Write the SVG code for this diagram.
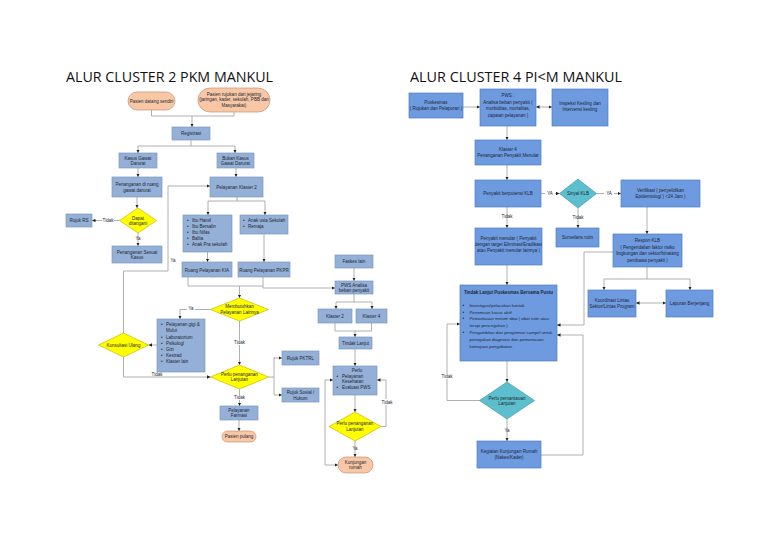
<svg xmlns="http://www.w3.org/2000/svg" width="768" height="543" viewBox="0 0 768 543">
<style>
.t{font-family:"Liberation Sans",Arial,sans-serif;font-size:4.5px;fill:#1b2535;text-anchor:middle}
.l{text-anchor:start}
.b{font-weight:bold}
.title{font-family:"Open Sans","Liberation Sans",sans-serif;font-size:14px;fill:#111}
.bx{fill:#95b0d6;stroke:#7d98c0;stroke-width:0.7}
.bx2{fill:#6e9be0;stroke:#4f7cc2;stroke-width:0.7}
.pill{fill:#f8c8a6;stroke:#c99070;stroke-width:0.7}
.dy{fill:#ffff00;stroke:#c9b800;stroke-width:0.7}
.dt{fill:#5dbfce;stroke:#3d9cae;stroke-width:0.7}
.c path{fill:none;stroke:#9c9c9c;stroke-width:0.8}
.c .ar{marker-end:url(#a)}
.c .da{marker-end:url(#a);marker-start:url(#a)}
.lb{fill:#fff}
</style>
<defs>
<marker id="a" viewBox="0 0 6 6" refX="6" refY="3" markerWidth="3.5" markerHeight="3.5" orient="auto-start-reverse" markerUnits="userSpaceOnUse"><path d="M0,0L6,3L0,6z" fill="#222"/></marker>
</defs>
<rect width="768" height="543" fill="#fff"/>
<text class="title" x="66" y="82" textLength="207" lengthAdjust="spacingAndGlyphs">ALUR CLUSTER 2 PKM MANKUL</text>
<text class="title" x="410" y="82" textLength="212" lengthAdjust="spacingAndGlyphs">ALUR CLUSTER 4 PI&lt;M MANKUL</text>

<g class="c" id="connectors">
<!-- left -->
<path d="M151.5,110V116H234V112"/>
<path class="ar" d="M192,116V127"/>
<path d="M191,140V146H138"/><path d="M191,146H235"/>
<path class="ar" d="M138,146V153"/><path class="ar" d="M235,146V153"/>
<path class="ar" d="M138,168V177"/>
<path class="ar" d="M137,197V208"/>
<path class="ar" d="M119.5,220.5H92"/>
<path class="ar" d="M138,233V246"/>
<path class="ar" d="M236,168V177"/>
<path d="M237,197V201H208"/><path d="M237,201H265"/>
<path class="ar" d="M208,201V215"/><path class="ar" d="M265,201V215"/>
<path class="ar" d="M207.5,252V262"/>
<path class="ar" d="M264,234V262"/>
<path d="M188,277V286H263"/>
<path class="ar" d="M263,277V288H335"/>
<path class="ar" d="M239.5,286V298"/>
<path class="ar" d="M210.5,309.5H180V319"/>
<path class="ar" d="M157,345H148.5"/>
<path class="ar" d="M123.5,333V271H168V186H210"/>
<path class="ar" d="M123.5,357V377H210.5"/>
<path class="ar" d="M239.5,321V365"/>
<path d="M268.5,377H274M274,357V395"/>
<path class="ar" d="M274,358H282"/><path class="ar" d="M274,395H282"/>
<path class="ar" d="M239.5,389V406"/>
<path class="ar" d="M239,420V431"/>
<path class="ar" d="M354,268V281"/>
<path d="M354,294V302H336"/><path d="M354,302H372"/>
<path class="ar" d="M336,302V309"/><path class="ar" d="M372,302V309"/>
<path d="M335,323V331H371.5V323"/>
<path class="ar" d="M355,331V337"/>
<path class="ar" d="M355,349V366"/>
<path class="ar" d="M355,395V412"/>
<path class="ar" d="M381,426.5H386V380H377"/>
<path class="ar" d="M355,441V457"/>
<path class="ar" d="M325,380V465H338"/>
<path class="ar" d="M325,380H333"/>
<!-- right -->
<path class="ar" d="M463,107H480"/>
<path class="da" d="M536,107H552"/>
<path class="ar" d="M507,126V140"/>
<path class="ar" d="M507,165V180"/>
<path class="ar" d="M541,193.5H559.5"/>
<path class="ar" d="M596.5,193.5H621"/>
<path class="ar" d="M578,208V228"/>
<path class="ar" d="M507,207V228"/>
<path class="ar" d="M647,207V234"/>
<path d="M647,267V279H604"/><path d="M647,279H690"/>
<path class="ar" d="M604,279V290"/><path class="ar" d="M690,279V290"/>
<path class="da" d="M636,303H666"/>
<path class="ar" d="M613,252H584V325H557"/>
<path class="ar" d="M507,265V285"/>
<path class="ar" d="M541,455H583V335H557"/>
<path class="ar" d="M480,400.5H447V324H460"/>
<path class="ar" d="M507,361V382"/>
<path class="ar" d="M507,419V441"/>
</g>

<g id="labels">
<rect class="lb" x="102" y="218" width="12" height="5"/><text class="t" x="108" y="222">Tidak</text>
<text class="t" x="138" y="240">Ya</text>
<text class="t" x="173" y="262">Ya</text>
<rect class="lb" x="187" y="306" width="8" height="5"/><text class="t" x="191" y="310">Ya</text>
<rect class="lb" x="233" y="340" width="13" height="5"/><text class="t" x="239.5" y="344">Tidak</text>
<text class="t" x="157" y="375.5">Tidak</text>
<rect class="lb" x="233" y="395" width="13" height="5"/><text class="t" x="239.5" y="399">Tidak</text>
<rect class="lb" x="381" y="399" width="12" height="6"/><text class="t" x="387" y="403.5">Tidak</text>
<text class="t" x="355" y="450">Ya</text>
<rect class="lb" x="545" y="191" width="10" height="5"/><text class="t" x="550" y="195">YA</text>
<rect class="lb" x="604" y="191" width="10" height="5"/><text class="t" x="609" y="195">YA</text>
<text class="t" x="578" y="219">Tidak</text>
<text class="t" x="507" y="218">Tidak</text>
<rect class="lb" x="441" y="374" width="12" height="5"/><text class="t" x="447" y="378">Tidak</text>
<text class="t" x="507" y="432">Ya</text>
</g>

<!-- LEFT NODES -->
<g id="n-pasien-sendiri"><rect class="pill" x="128" y="92" width="47" height="18" rx="9"/><text class="t" x="151.5" y="102.5">Pasien datang sendiri</text></g>
<g id="n-pasien-rujukan"><rect class="pill" x="198" y="88" width="72" height="24" rx="12"/><text class="t" x="234" y="95.5">Pasien rujukan dari jejaring</text><text class="t" x="234" y="101.2">(jaringan, kader, sekolah, PBB dan</text><text class="t" x="234" y="106.9">Masyarakat)</text></g>
<g id="n-registrasi"><rect class="bx" x="172" y="127" width="38" height="13"/><text class="t" x="191" y="135">Registrasi</text></g>
<g id="n-kasus-gd"><rect class="bx" x="119" y="153" width="38" height="15"/><text class="t" x="138" y="159.5">Kasus Gawat</text><text class="t" x="138" y="165">Darurat</text></g>
<g id="n-bukan-gd"><rect class="bx" x="217" y="153" width="37" height="15"/><text class="t" x="235.5" y="159.5">Bukan Kasus</text><text class="t" x="235.5" y="165">Gawat Darurat</text></g>
<g id="n-penanganan-gd"><rect class="bx" x="112" y="177" width="50" height="20"/><text class="t" x="137" y="186">Penanganan di ruang</text><text class="t" x="137" y="191.5">gawat darurat</text></g>
<g id="n-dapat"><polygon class="dy" points="138,208 156.5,220.5 138,233 119.5,220.5"/><text class="t" x="138" y="219.5">Dapat</text><text class="t" x="138" y="225">ditangani</text></g>
<g id="n-rujuk-rs"><rect class="bx" x="66" y="214" width="26" height="13"/><text class="t" x="79" y="222">Rujuk RS</text></g>
<g id="n-penanganan-kasus"><rect class="bx" x="112" y="246" width="50" height="17"/><text class="t" x="137" y="253.5">Penanganan Sesuai</text><text class="t" x="137" y="259">Kasus</text></g>
<g id="n-klaster2"><rect class="bx" x="210" y="177" width="53" height="20"/><text class="t" x="236.5" y="188.5">Pelayanan Klaster 2</text></g>
<g id="n-kia-list"><rect class="bx" x="183" y="215" width="49" height="37"/>
<text class="t l" x="187" y="222">•</text><text class="t l" x="192" y="222">Ibu Hamil</text>
<text class="t l" x="187" y="228">•</text><text class="t l" x="192" y="228">Ibu Bersalin</text>
<text class="t l" x="187" y="234">•</text><text class="t l" x="192" y="234">Ibu Nifas</text>
<text class="t l" x="187" y="240">•</text><text class="t l" x="192" y="240">Balita</text>
<text class="t l" x="187" y="246">•</text><text class="t l" x="192" y="246">Anak Pra sekolah</text></g>
<g id="n-remaja"><rect class="bx" x="240" y="215" width="48" height="19"/>
<text class="t l" x="243" y="222">•</text><text class="t l" x="248" y="222">Anak usia Sekolah</text>
<text class="t l" x="243" y="228">•</text><text class="t l" x="248" y="228">Remaja</text></g>
<g id="n-ruang-kia"><rect class="bx" x="182" y="262" width="50" height="15"/><text class="t" x="207" y="271.5">Ruang Pelayanan KIA</text></g>
<g id="n-ruang-pkpr"><rect class="bx" x="238" y="262" width="52" height="15"/><text class="t" x="264" y="271.5">Ruang Pelayanan PKPR</text></g>
<g id="n-membutuhkan"><polygon class="dy" points="239.5,298 268.5,309.5 239.5,321 210.5,309.5"/><text class="t" x="239.5" y="308.3">Membutuhkan</text><text class="t" x="239.5" y="313.8">Pelayanan Lainnya</text></g>
<g id="n-lain-list"><rect class="bx" x="157" y="319" width="48" height="53"/>
<text class="t l" x="161" y="326">•</text><text class="t l" x="166" y="326">Pelayanan gigi &amp;</text>
<text class="t l" x="166" y="332">Mulut</text>
<text class="t l" x="161" y="338.5">•</text><text class="t l" x="166" y="338.5">Laboratorium</text>
<text class="t l" x="161" y="345">•</text><text class="t l" x="166" y="345">Psikologi</text>
<text class="t l" x="161" y="351">•</text><text class="t l" x="166" y="351">Gizi</text>
<text class="t l" x="161" y="357">•</text><text class="t l" x="166" y="357">Kestrad</text>
<text class="t l" x="161" y="363">•</text><text class="t l" x="166" y="363">Klaster lain</text></g>
<g id="n-konsultasi"><polygon class="dy" points="123.5,333 148.5,345 123.5,357 98.5,345"/><text class="t" x="123.5" y="346.5">Konsultasi Ulang</text></g>
<g id="n-perlu-1"><polygon class="dy" points="239.5,365 268.5,377 239.5,389 210.5,377"/><text class="t" x="239.5" y="375.5">Perlu penanganan</text><text class="t" x="239.5" y="381">Lanjutan</text></g>
<g id="n-rujuk-pktrl"><rect class="bx" x="282" y="351" width="37" height="14"/><text class="t" x="300.5" y="359.5">Rujuk PKTRL</text></g>
<g id="n-rujuk-sosial"><rect class="bx" x="282" y="388" width="37" height="14"/><text class="t" x="300.5" y="394">Rujuk Sosial /</text><text class="t" x="300.5" y="399.5">Hukum</text></g>
<g id="n-farmasi"><rect class="bx" x="220" y="406" width="38" height="14"/><text class="t" x="239" y="411.8">Pelayanan</text><text class="t" x="239" y="417.3">Farmasi</text></g>
<g id="n-pulang"><rect class="pill" x="222" y="431" width="34" height="11" rx="5.5"/><text class="t" x="239" y="438">Pasien pulang</text></g>
<g id="n-faskes"><rect class="bx" x="335" y="255" width="38" height="13"/><text class="t" x="354" y="263">Faskes lain</text></g>
<g id="n-pws-l"><rect class="bx" x="335" y="281" width="38" height="13"/><text class="t" x="354" y="286.5">PWS Analisa</text><text class="t" x="354" y="291.7">beban penyakit</text></g>
<g id="n-k2"><rect class="bx" x="318" y="309" width="34" height="14"/><text class="t" x="335" y="317.5">Klaster 2</text></g>
<g id="n-k4"><rect class="bx" x="356" y="309" width="31" height="14"/><text class="t" x="371.5" y="317.5">Klaster 4</text></g>
<g id="n-tl"><rect class="bx" x="339" y="337" width="33" height="12"/><text class="t" x="355.5" y="344.5">Tindak Lanjut</text></g>
<g id="n-perlu-list"><rect class="bx" x="333" y="366" width="44" height="29"/>
<text class="t" x="357" y="372">Perlu</text>
<text class="t l" x="336.5" y="377.5">•</text><text class="t l" x="342" y="377.5">Pelayanan</text>
<text class="t l" x="342" y="383">Kesehatan</text>
<text class="t l" x="336.5" y="388.5">•</text><text class="t l" x="342" y="388.5">Evaluasi PWS</text></g>
<g id="n-perlu-2"><polygon class="dy" points="355,412 381,426.5 355,441 329,426.5"/><text class="t" x="355" y="425">Perlu penanganan</text><text class="t" x="355" y="430.5">Lanjutan</text></g>
<g id="n-kunjungan"><rect class="pill" x="338" y="457" width="35" height="16" rx="8"/><text class="t" x="355.5" y="463.8">Kunjungan</text><text class="t" x="355.5" y="469.3">rumah</text></g>

<!-- RIGHT NODES -->
<g id="r-puskesmas"><rect class="bx2" x="409" y="93" width="54" height="25"/><text class="t" x="436" y="104">Puskesmas</text><text class="t" x="436" y="110">( Rujukan dan Pelaporan )</text></g>
<g id="r-pws"><rect class="bx2" x="480" y="89" width="56" height="37"/><text class="t" x="508" y="97">PWS :</text><text class="t" x="508" y="103.5">Analisa beban penyakit (</text><text class="t" x="508" y="110">morbiditas, mortalitas,</text><text class="t" x="508" y="116.5">capaian pelayanan )</text></g>
<g id="r-inspeksi"><rect class="bx2" x="552" y="89" width="56" height="37"/><text class="t" x="580" y="105">Inspeksi Kesling dan</text><text class="t" x="580" y="111">Intervensi kesling</text></g>
<g id="r-klaster4"><rect class="bx2" x="475" y="140" width="66" height="25"/><text class="t" x="508" y="150.5">Klaster 4</text><text class="t" x="508" y="156.5">Penanganan Penyakit Menular</text></g>
<g id="r-klb"><rect class="bx2" x="475" y="180" width="66" height="27"/><text class="t" x="508" y="195">Penyakit berpotensi KLB</text></g>
<g id="r-sinyal"><polygon class="dt" points="578,179 596.5,193.5 578,208 559.5,193.5"/><text class="t" x="578" y="195">Sinyal KLB</text></g>
<g id="r-verifikasi"><rect class="bx2" x="621" y="180" width="79" height="27"/><text class="t" x="660.5" y="192">Verifikasi ( penyelidikan</text><text class="t" x="660.5" y="198">Epidemiologi ) &lt;24 Jam )</text></g>
<g id="r-surveilans"><rect class="bx2" x="556" y="228" width="43" height="19"/><text class="t" x="577.5" y="239">Surveilans rutin</text></g>
<g id="r-menular"><rect class="bx2" x="475" y="228" width="67" height="37"/><text class="t" x="508.5" y="240">Penyakit menular ( Penyakit</text><text class="t" x="508.5" y="246.2">dengan target Eliminasi/Eradikasi</text><text class="t" x="508.5" y="252.4">atau Penyakit menular lainnya )</text></g>
<g id="r-respon"><rect class="bx2" x="613" y="234" width="69" height="33"/><text class="t" x="647.5" y="242">Respon KLB</text><text class="t" x="647.5" y="248.5">( Pengendalian faktor risiko</text><text class="t" x="647.5" y="255">lingkungan dan vektor/binatang</text><text class="t" x="647.5" y="261.5">pembawa penyakit )</text></g>
<g id="r-koordinasi"><rect class="bx2" x="588" y="290" width="48" height="27"/><text class="t" x="612" y="302">Koordinasi Lintas</text><text class="t" x="612" y="308">Sektor/Lintas Program</text></g>
<g id="r-laporan"><rect class="bx2" x="666" y="290" width="47" height="27"/><text class="t" x="689.5" y="305">Laporan Berjenjang</text></g>
<g id="r-tindak"><rect class="bx2" x="460" y="285" width="97" height="76"/>
<text class="t b" x="508.5" y="294">Tindak Lanjut Puskesmas Bersama Pustu</text>
<g style="font-size:4.3px">
<text class="t l" x="462.5" y="307">•</text><text class="t l" x="469.5" y="307" style="font-size:4.3px">Investigasi/pelacakan kontak</text>
<text class="t l" x="462.5" y="313.5">•</text><text class="t l" x="469.5" y="313.5" style="font-size:4.3px">Penemuan kasus aktif</text>
<text class="t l" x="462.5" y="320">•</text><text class="t l" x="469.5" y="320" style="font-size:4.3px">Pemantauan minum obat ( obat rutin atau</text>
<text class="t l" x="469.5" y="326.5" style="font-size:4.3px">terapi pencegahan )</text>
<text class="t l" x="462.5" y="333.5">•</text><text class="t l" x="469.5" y="333.5" style="font-size:4.3px">Pengambilan dan pengiriman sampel untuk</text>
<text class="t l" x="469.5" y="340.5" style="font-size:4.3px">penegakan diagnosis dan pemantauan</text>
<text class="t l" x="469.5" y="347.5" style="font-size:4.3px">kemajuan pengobatan</text>
</g></g>
<g id="r-pemantauan"><polygon class="dt" points="507,382 534.5,400.5 507,419 479.5,400.5"/><text class="t" x="507" y="399.5">Perlu pemantauan</text><text class="t" x="507" y="405">Lanjutan</text></g>
<g id="r-kegiatan"><rect class="bx2" x="477" y="441" width="64" height="27"/><text class="t" x="509" y="452.5">Kegiatan Kunjungan Rumah</text><text class="t" x="509" y="458.5">(Nakes/Kader)</text></g>
</svg>
